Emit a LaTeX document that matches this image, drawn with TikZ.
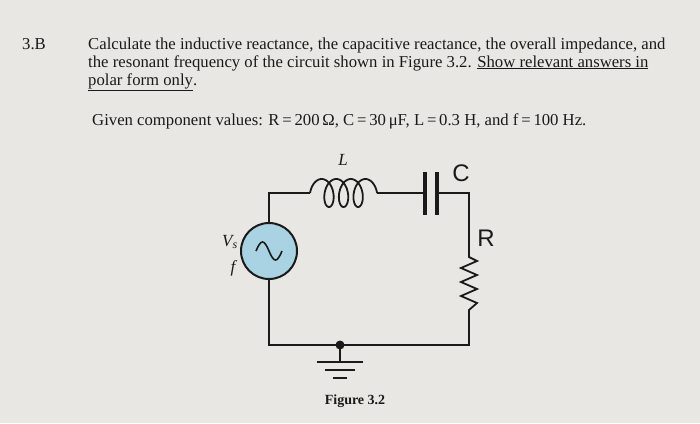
\documentclass[tikz,border=0pt]{standalone}
\usepackage{fontspec}
\setmainfont{Liberation Serif}
\newfontfamily\arialf{Liberation Sans}
\definecolor{bg}{HTML}{E9E7E3}
\definecolor{srcfill}{HTML}{A9D3E2}
\definecolor{ink}{HTML}{1A1A1A}
\begin{document}
\begin{tikzpicture}[x=1pt,y=-1pt,
  wire/.style={draw=ink,line width=1.8pt},
  txt/.style={anchor=base west,inner sep=0pt,text=ink,font=\fontsize{16.7}{18}\selectfont}]
\fill[bg] (0,0) rectangle (700,423);
\useasboundingbox (0,0) rectangle (700,423);
\node[txt] (num) at (22,49) {3.B};
\node[txt] (l1) at (88,49) {Calculate the inductive reactance, the capacitive reactance, the overall impedance, and};
\node[txt] (l2) at (88,67) {the resonant frequency of the circuit shown in Figure 3.2. \underline{Show relevant answers in}};
\node[txt] (l3) at (88,85) {\underline{polar form only}.};
\node[txt] (l4) at (92,125) {Given component values: R\,=\,200\,Ω, C\,=\,30\,μF, L\,=\,0.3 H, and f\,=\,100 Hz.};
% circuit
\coordinate (tl) at (269,193);
\coordinate (tr) at (469,193);
\coordinate (bl) at (269,345);
\coordinate (br) at (469,345);
\coordinate (gnd) at (340,345);
\node[circle,draw=ink,line width=2pt,fill=srcfill,minimum size=56pt,inner sep=0pt] (src) at (269,251) {};
\draw[ink,line width=1.6pt] ([xshift=-13pt]src.center) .. controls +(5,-12) and +(-5,-12) .. (src.center) .. controls +(5,12) and +(-5,12) .. ([xshift=13pt]src.center);
\draw[wire] (src.north) -- (tl) -- (310,193);
\draw[wire,smooth] plot[domain=90:1350,samples=180] ({314.4+2.32*(\x/57.2958)-8*sin(\x)},{193+14*cos(\x)});
\draw[wire] (377,193) -- (425,193);
\draw[ink,line width=4pt] (425,172) -- (425,215) (437,172) -- (437,215);
\draw[wire] (437,193) -- (tr) -- (469,257)
  -- (477,261) -- (461,268) -- (477,275) -- (461,282) -- (477,289) -- (461,296) -- (477,303) -- (469,310) -- (br) -- (bl) -- (src.south);
\fill[ink] (gnd) circle (4.5pt);
\draw[wire] (gnd) -- (340,362);
\draw[ink,line width=2pt] (317,362) -- (363,362) (325,370) -- (355,370) (333,378) -- (347,378);
\node[text=ink,font=\fontsize{17}{17}\selectfont\itshape] (Ll) at (343,160) {L};
\node[text=ink,font=\arialf\fontsize{24}{24}\selectfont] (Cl) at (461,173) {C};
\node[text=ink,font=\arialf\fontsize{24}{24}\selectfont] (Rl) at (486,238) {R};
\node[text=ink,font=\fontsize{17}{17}\selectfont\itshape] (Vl) at (230,242) {V\textsubscript{\itshape s}};
\node[text=ink,font=\fontsize{17}{17}\selectfont\itshape] (fl) at (233,268) {f};
\node[text=ink,font=\fontsize{14}{14}\selectfont\bfseries] (fig) at (355,401) {Figure 3.2};
\end{tikzpicture}
\end{document}
